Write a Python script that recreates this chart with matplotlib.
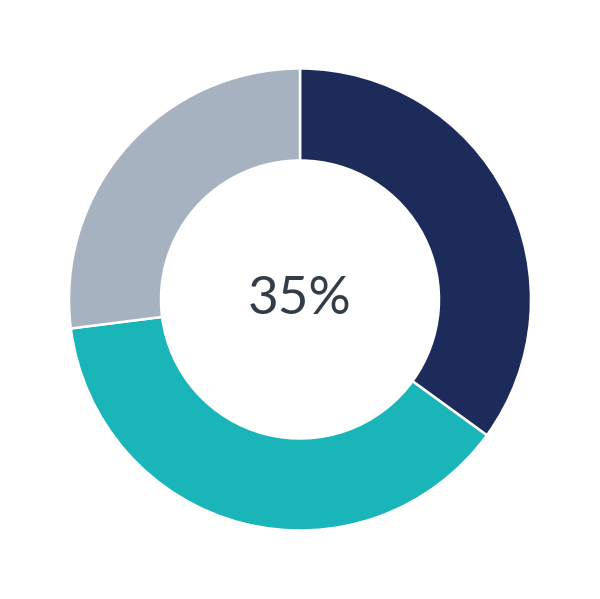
import matplotlib.pyplot as plt

# share of each segment, clockwise from 12 o'clock
labels = ['Navy', 'Teal', 'Grey']
shares = [35, 38, 27]
colors = ['#1c2b5a', '#1ab5b8', '#a7b2c1']
center_text = '35%'

fig = plt.figure(figsize=(6, 5.99), dpi=100)
ax = fig.add_axes([0, 0, 1, 1])

outer_r = 231
ax.pie(shares, colors=colors, startangle=90, counterclock=False,
       radius=outer_r, center=(300, 299.5),
       wedgeprops=dict(width=92, edgecolor='white', linewidth=1.8))

ax.text(300, 299.5, center_text, ha='center', va='center',
        fontsize=38, family='Lato', color='#333d47')

ax.set_xlim(0, 600)
ax.set_ylim(0, 599)
ax.set_aspect('equal')
ax.axis('off')

fig.savefig('out.png', dpi=100, facecolor='white')
